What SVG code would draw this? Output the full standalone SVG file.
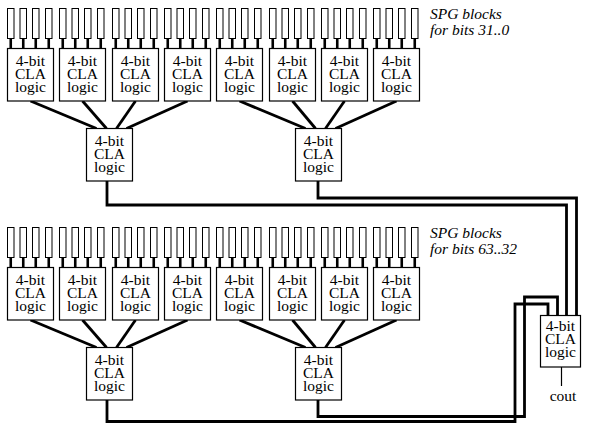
<svg xmlns="http://www.w3.org/2000/svg" width="590" height="427" viewBox="0 0 590 427">
<style>
.bar{fill:#fff;stroke:#000;stroke-width:1}
.blk{fill:#fff;stroke:#000;stroke-width:1.2}
text{font-family:'Liberation Serif','Times New Roman',serif;fill:#000}
.t{font-size:15.5px;text-anchor:middle}
.lbl{font-size:15.5px;font-style:italic}
.stub{stroke:#000;stroke-width:2.6;fill:none}
.wire{stroke:#000;stroke-width:2.8;fill:none;stroke-linejoin:miter}
.thin{stroke:#000;stroke-width:1.2;fill:none}
</style>
<defs>
<g id="bars4">
<rect class="bar" x="0" y="0" width="6.5" height="30"/>
<rect class="bar" x="12.5" y="0" width="6.5" height="30"/>
<rect class="bar" x="25" y="0" width="6.5" height="30"/>
<rect class="bar" x="38" y="0" width="6.5" height="30"/>
</g>
<g id="stubs4">
<line class="stub" x1="3.25" y1="30" x2="3.25" y2="40"/>
<line class="stub" x1="15.75" y1="30" x2="15.75" y2="40"/>
<line class="stub" x1="28.25" y1="30" x2="28.25" y2="40"/>
<line class="stub" x1="41.25" y1="30" x2="41.25" y2="40"/>
</g>
<g id="cla46">
<rect class="blk" x="0" y="0" width="46" height="52.5"/>
<text class="t" x="23" y="17">4-bit<tspan x="23" dy="13">CLA</tspan><tspan x="23" dy="13">logic</tspan></text>
</g>
</defs>

<g id="spg-31-0">
<use href="#bars4" x="7.5" y="8.5"/>
<use href="#bars4" x="59.5" y="8.5"/>
<use href="#bars4" x="112.5" y="8.5"/>
<use href="#bars4" x="164.5" y="8.5"/>
<use href="#bars4" x="216.5" y="8.5"/>
<use href="#bars4" x="269.5" y="8.5"/>
<use href="#bars4" x="321.5" y="8.5"/>
<use href="#bars4" x="373.5" y="8.5"/>
<text class="lbl" x="430" y="19">SPG blocks</text>
<text class="lbl" x="430" y="35">for bits 31..0</text>
</g>

<g id="spg-63-32">
<use href="#bars4" x="7.5" y="227.5"/>
<use href="#bars4" x="59.5" y="227.5"/>
<use href="#bars4" x="112.5" y="227.5"/>
<use href="#bars4" x="164.5" y="227.5"/>
<use href="#bars4" x="216.5" y="227.5"/>
<use href="#bars4" x="269.5" y="227.5"/>
<use href="#bars4" x="321.5" y="227.5"/>
<use href="#bars4" x="373.5" y="227.5"/>
<text class="lbl" x="430" y="238">SPG blocks</text>
<text class="lbl" x="430" y="254">for bits 63..32</text>
</g>

<g id="connectors">
<use href="#stubs4" x="7.5" y="8.5"/>
<use href="#stubs4" x="59.5" y="8.5"/>
<use href="#stubs4" x="112.5" y="8.5"/>
<use href="#stubs4" x="164.5" y="8.5"/>
<use href="#stubs4" x="216.5" y="8.5"/>
<use href="#stubs4" x="269.5" y="8.5"/>
<use href="#stubs4" x="321.5" y="8.5"/>
<use href="#stubs4" x="373.5" y="8.5"/>
<use href="#stubs4" x="7.5" y="227.5"/>
<use href="#stubs4" x="59.5" y="227.5"/>
<use href="#stubs4" x="112.5" y="227.5"/>
<use href="#stubs4" x="164.5" y="227.5"/>
<use href="#stubs4" x="216.5" y="227.5"/>
<use href="#stubs4" x="269.5" y="227.5"/>
<use href="#stubs4" x="321.5" y="227.5"/>
<use href="#stubs4" x="373.5" y="227.5"/>
<line class="wire" x1="30.5" y1="101" x2="96.5" y2="128.5"/>
<line class="wire" x1="82.5" y1="101" x2="106.5" y2="128.5"/>
<line class="wire" x1="135.5" y1="101" x2="116.5" y2="128.5"/>
<line class="wire" x1="187.5" y1="101" x2="126.5" y2="128.5"/>
<line class="wire" x1="239.5" y1="101" x2="305.5" y2="128.5"/>
<line class="wire" x1="292.5" y1="101" x2="315.5" y2="128.5"/>
<line class="wire" x1="344.5" y1="101" x2="325.5" y2="128.5"/>
<line class="wire" x1="396.5" y1="101" x2="335.5" y2="128.5"/>
<line class="wire" x1="30.5" y1="320" x2="96.5" y2="347.5"/>
<line class="wire" x1="82.5" y1="320" x2="106.5" y2="347.5"/>
<line class="wire" x1="135.5" y1="320" x2="116.5" y2="347.5"/>
<line class="wire" x1="187.5" y1="320" x2="126.5" y2="347.5"/>
<line class="wire" x1="239.5" y1="320" x2="305.5" y2="347.5"/>
<line class="wire" x1="292.5" y1="320" x2="315.5" y2="347.5"/>
<line class="wire" x1="344.5" y1="320" x2="325.5" y2="347.5"/>
<line class="wire" x1="396.5" y1="320" x2="335.5" y2="347.5"/>
<path class="wire" d="M107,181 V205 H566.5 V315.5"/>
<path class="wire" d="M318,181 V198 H576.5 V315.5"/>
<path class="wire" d="M107,400 V421.5 H515 V304 H548 V315.5"/>
<path class="wire" d="M318,400 V416.5 H524.5 V297 H557.5 V315.5"/>
<line class="thin" x1="561.5" y1="367" x2="561.5" y2="386"/>
</g>

<g id="cla-t0"><use href="#cla46" x="7.5" y="48.5"/></g>
<g id="cla-t1"><use href="#cla46" x="59.5" y="48.5"/></g>
<g id="cla-t2"><use href="#cla46" x="112.5" y="48.5"/></g>
<g id="cla-t3"><use href="#cla46" x="164.5" y="48.5"/></g>
<g id="cla-t4"><use href="#cla46" x="216.5" y="48.5"/></g>
<g id="cla-t5"><use href="#cla46" x="269.5" y="48.5"/></g>
<g id="cla-t6"><use href="#cla46" x="321.5" y="48.5"/></g>
<g id="cla-t7"><use href="#cla46" x="373.5" y="48.5"/></g>
<g id="cla-tm0"><use href="#cla46" x="86.5" y="128.5"/></g>
<g id="cla-tm1"><use href="#cla46" x="295.5" y="128.5"/></g>
<g id="cla-b0"><use href="#cla46" x="7.5" y="267.5"/></g>
<g id="cla-b1"><use href="#cla46" x="59.5" y="267.5"/></g>
<g id="cla-b2"><use href="#cla46" x="112.5" y="267.5"/></g>
<g id="cla-b3"><use href="#cla46" x="164.5" y="267.5"/></g>
<g id="cla-b4"><use href="#cla46" x="216.5" y="267.5"/></g>
<g id="cla-b5"><use href="#cla46" x="269.5" y="267.5"/></g>
<g id="cla-b6"><use href="#cla46" x="321.5" y="267.5"/></g>
<g id="cla-b7"><use href="#cla46" x="373.5" y="267.5"/></g>
<g id="cla-bm0"><use href="#cla46" x="86.5" y="347.5"/></g>
<g id="cla-bm1"><use href="#cla46" x="295.5" y="347.5"/></g>
<g id="cla-final">
<rect class="blk" x="540.5" y="315.5" width="40" height="51.5"/>
<text class="t" x="560.5" y="331">4-bit<tspan x="560.5" dy="13">CLA</tspan><tspan x="560.5" dy="13">logic</tspan></text>
</g>
<g id="cout">
<text class="t" x="563" y="401">cout</text>
</g>
</svg>
